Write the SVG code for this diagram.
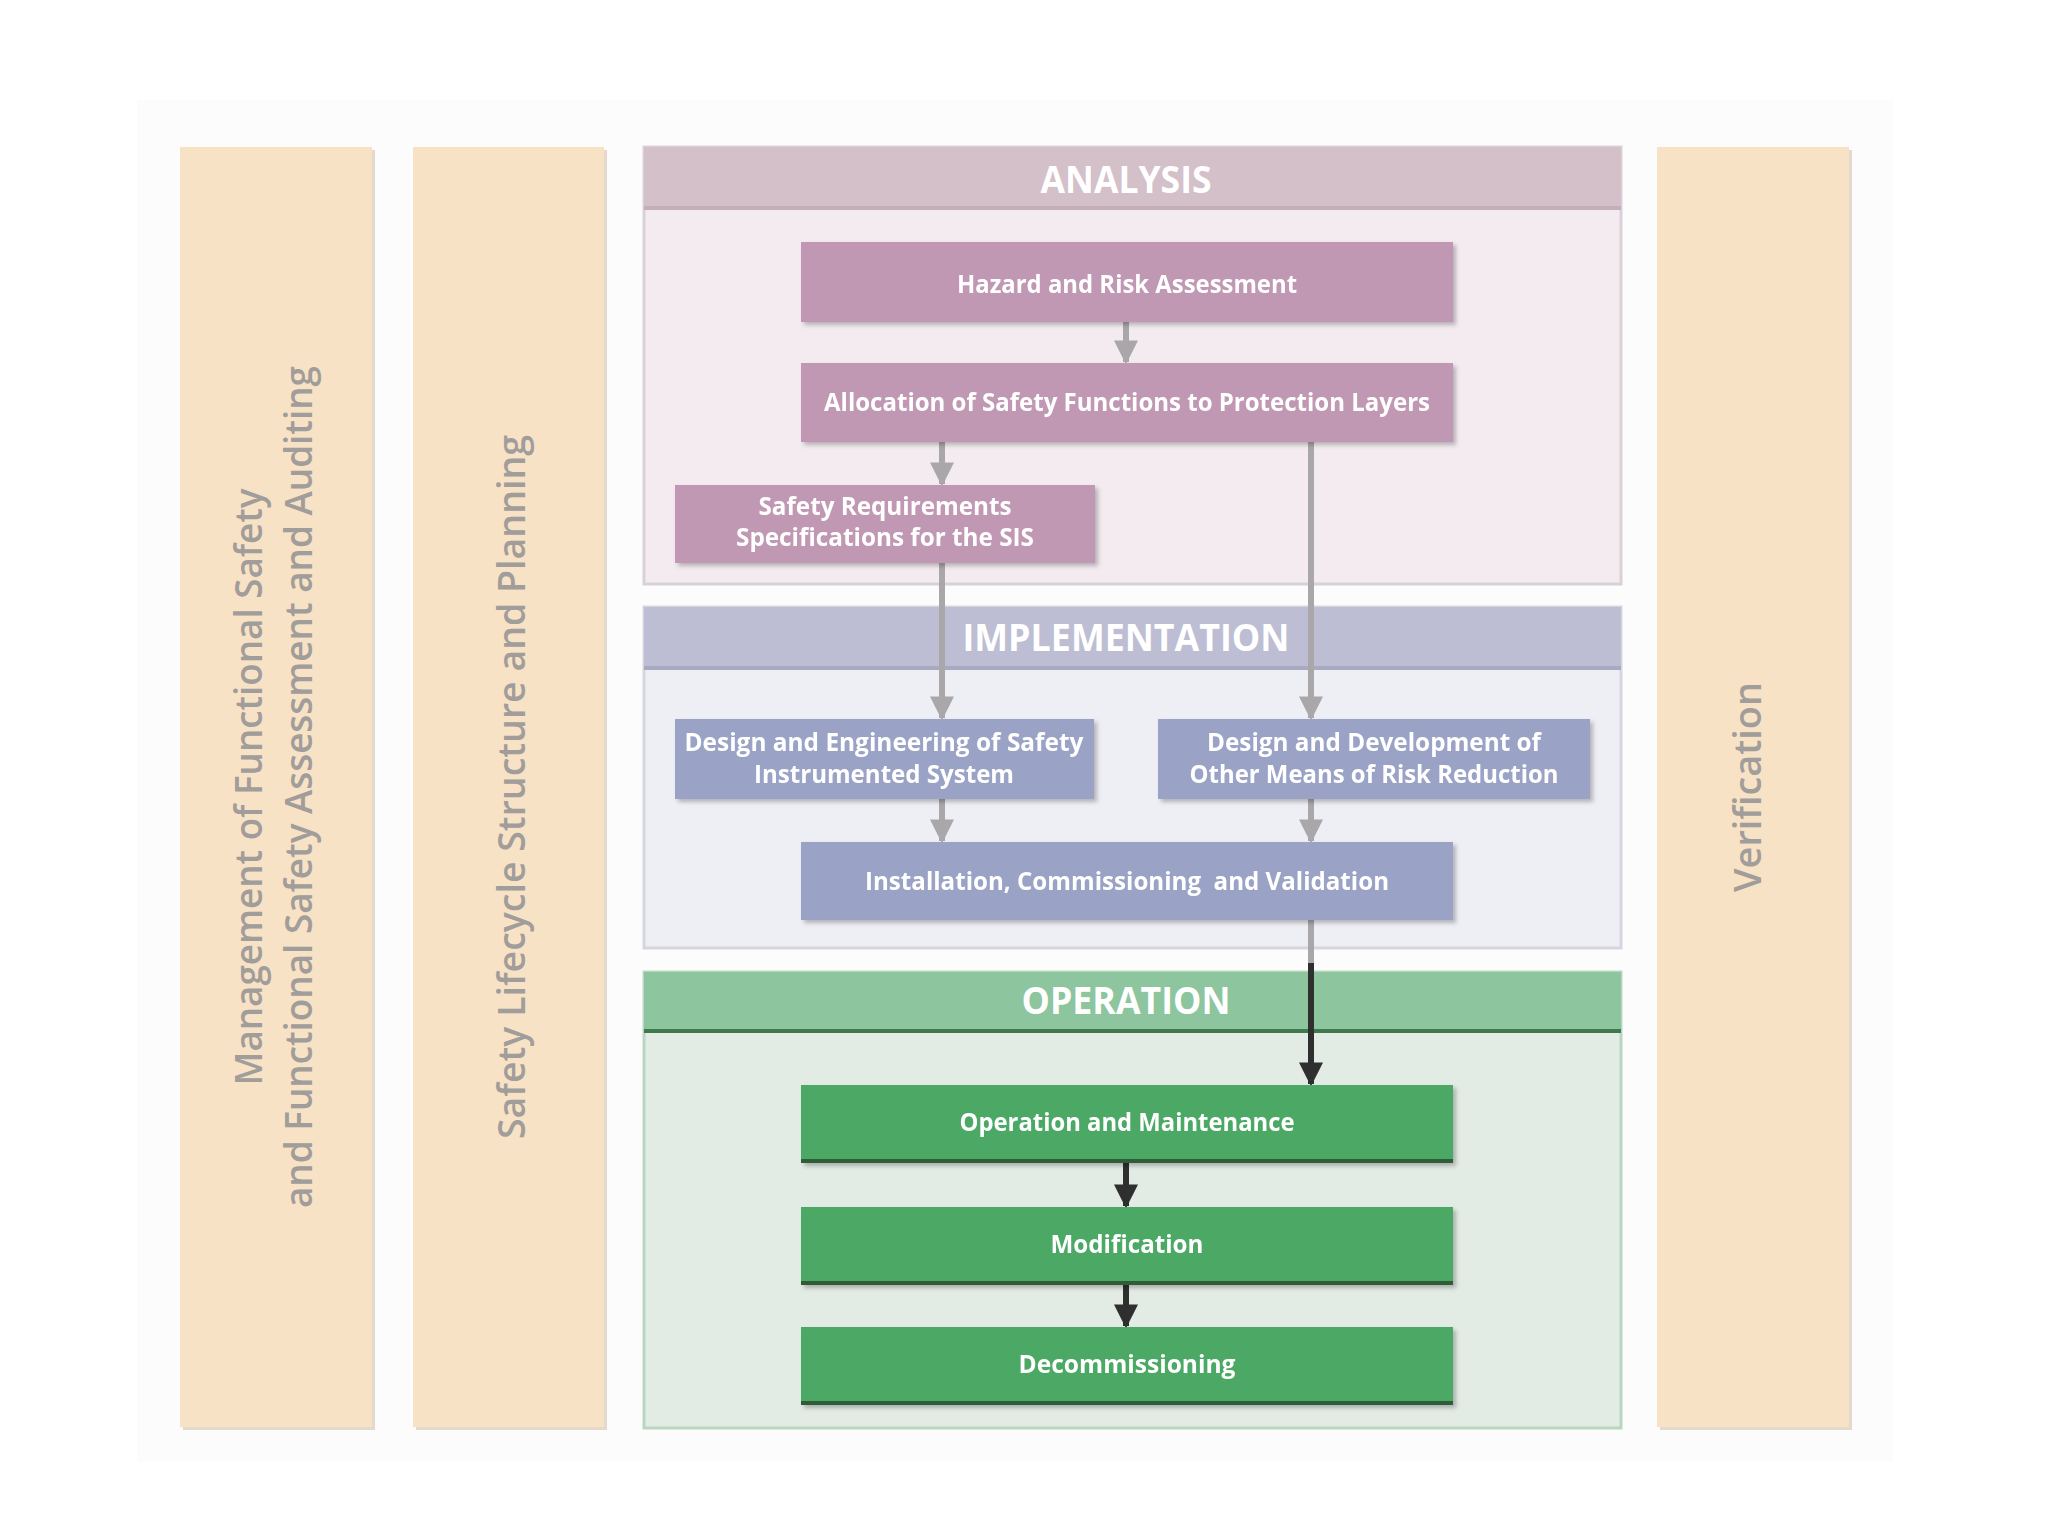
<svg xmlns="http://www.w3.org/2000/svg" width="2048" height="1536" viewBox="0 0 2048 1536">
  <defs>
    <marker id="ah-gray" markerWidth="4" markerHeight="4" refX="3.6" refY="2" orient="auto" markerUnits="strokeWidth">
      <path d="M0,0 L4,2 L0,4 Z" fill="#a9a7aa"/>
    </marker>
    <marker id="ah-dark" markerWidth="4" markerHeight="4" refX="3.6" refY="2" orient="auto" markerUnits="strokeWidth">
      <path d="M0,0 L4,2 L0,4 Z" fill="#2f2f2f"/>
    </marker>
    <filter id="sh" x="-5%" y="-5%" width="110%" height="120%">
      <feDropShadow dx="3" dy="3" stdDeviation="2" flood-color="#000" flood-opacity="0.25"/>
    </filter>
  </defs>
  <style>
    .col { fill: #f8e2c5; }
    .coltxt { font-family: "Open Sans", "DejaVu Sans", sans-serif; font-weight: 600; font-size: 38px; fill: #a19d9a; text-anchor: middle; }
    .hdrtxt { font-family: "Open Sans", "DejaVu Sans", sans-serif; font-weight: 700; font-size: 38px; fill: #ffffff; text-anchor: middle; }
    .ntxt { font-family: "Open Sans", "DejaVu Sans", sans-serif; font-weight: 700; font-size: 25px; fill: #ffffff; text-anchor: middle; white-space: pre; }
    .a-node { fill: #c098b3; }
    .i-node { fill: #9aa3c5; }
    .o-node { fill: #4ca865; }
    .o-edge { fill: #2e5d38; }
    .gline { stroke: #a9a7aa; stroke-width: 6; fill: none; }
    .dline { stroke: #2f2f2f; stroke-width: 6; fill: none; }
  </style>

  <rect x="0" y="0" width="2048" height="1536" fill="#ffffff"/>
  <rect x="137" y="100" width="1756" height="1362" fill="#fcfcfc"/>

  <!-- side columns -->
  <g id="col-management">
    <rect x="183" y="150" width="192" height="1280" fill="#e3d9cc"/>
    <rect class="col" x="180" y="147" width="192" height="1280"/>
    <text class="coltxt" transform="translate(262,787) rotate(-90)" textLength="597" lengthAdjust="spacingAndGlyphs">Management of Functional Safety</text>
    <text class="coltxt" transform="translate(312,787) rotate(-90)" textLength="842" lengthAdjust="spacingAndGlyphs">and Functional Safety Assessment and Auditing</text>
  </g>
  <g id="col-planning">
    <rect x="416" y="150" width="191" height="1280" fill="#e3d9cc"/>
    <rect class="col" x="413" y="147" width="191" height="1280"/>
    <text class="coltxt" transform="translate(525,787) rotate(-90)" textLength="704" lengthAdjust="spacingAndGlyphs">Safety Lifecycle Structure and Planning</text>
  </g>
  <g id="col-verification">
    <rect x="1660" y="150" width="192" height="1280" fill="#e3d9cc"/>
    <rect class="col" x="1657" y="147" width="192" height="1280"/>
    <text class="coltxt" transform="translate(1761,787) rotate(-90)" textLength="210" lengthAdjust="spacingAndGlyphs">Verification</text>
  </g>

  <!-- phase panels -->
  <g id="panel-analysis">
    <rect x="644" y="147" width="977" height="437" fill="#f4ebf0" stroke="#d8d2d6" stroke-width="3"/>
    <rect x="644" y="147" width="977" height="62" fill="#d4c0c9"/>
    <rect x="644" y="206" width="977" height="4" fill="#c4aebb"/>
    <text class="hdrtxt" x="1126" y="193" textLength="171" lengthAdjust="spacingAndGlyphs">ANALYSIS</text>
  </g>
  <g id="panel-implementation">
    <rect x="644" y="607" width="977" height="341" fill="#eeeef5" stroke="#d6d6df" stroke-width="3"/>
    <rect x="644" y="607" width="977" height="62" fill="#bdbdd4"/>
    <rect x="644" y="666" width="977" height="4" fill="#a9a9c2"/>
    <text class="hdrtxt" x="1126" y="651" textLength="327" lengthAdjust="spacingAndGlyphs">IMPLEMENTATION</text>
  </g>
  <g id="panel-operation">
    <rect x="644" y="972" width="977" height="456" fill="#e3ebe5" stroke="#b9d6c0" stroke-width="3"/>
    <rect x="644" y="972" width="977" height="60" fill="#8dc59e"/>
    <rect x="644" y="1029" width="977" height="4" fill="#3f7a4e"/>
    <text class="hdrtxt" x="1126" y="1014" textLength="209" lengthAdjust="spacingAndGlyphs">OPERATION</text>
  </g>

  <!-- connectors -->
  <g id="connectors">
    <line class="gline" x1="1126" y1="322" x2="1126" y2="362" marker-end="url(#ah-gray)"/>
    <line class="gline" x1="942" y1="442" x2="942" y2="484" marker-end="url(#ah-gray)"/>
    <line class="gline" x1="942" y1="563" x2="942" y2="718" marker-end="url(#ah-gray)"/>
    <line class="gline" x1="1311" y1="442" x2="1311" y2="718" marker-end="url(#ah-gray)"/>
    <line class="gline" x1="942" y1="799" x2="942" y2="841" marker-end="url(#ah-gray)"/>
    <line class="gline" x1="1311" y1="799" x2="1311" y2="841" marker-end="url(#ah-gray)"/>
    <line class="gline" x1="1311" y1="920" x2="1311" y2="966"/>
    <line class="dline" x1="1311" y1="963" x2="1311" y2="1084" marker-end="url(#ah-dark)"/>
    <line class="dline" x1="1126" y1="1163" x2="1126" y2="1206" marker-end="url(#ah-dark)"/>
    <line class="dline" x1="1126" y1="1285" x2="1126" y2="1326" marker-end="url(#ah-dark)"/>
  </g>

  <!-- analysis nodes -->
  <g id="node-hazard" filter="url(#sh)">
    <rect class="a-node" x="801" y="242" width="652" height="80"/>
    <text class="ntxt" x="1127" y="293" textLength="340" lengthAdjust="spacingAndGlyphs">Hazard and Risk Assessment</text>
  </g>
  <g id="node-allocation" filter="url(#sh)">
    <rect class="a-node" x="801" y="363" width="652" height="79"/>
    <text class="ntxt" x="1127" y="411" textLength="606" lengthAdjust="spacingAndGlyphs">Allocation of Safety Functions to Protection Layers</text>
  </g>
  <g id="node-srs" filter="url(#sh)">
    <rect class="a-node" x="675" y="485" width="420" height="78"/>
    <text class="ntxt" x="885" y="515" textLength="253" lengthAdjust="spacingAndGlyphs">Safety Requirements</text>
    <text class="ntxt" x="885" y="546" textLength="298" lengthAdjust="spacingAndGlyphs">Specifications for the SIS</text>
  </g>

  <!-- implementation nodes -->
  <g id="node-design-sis" filter="url(#sh)">
    <rect class="i-node" x="675" y="719" width="419" height="80"/>
    <text class="ntxt" x="884" y="751" textLength="399" lengthAdjust="spacingAndGlyphs">Design and Engineering of Safety</text>
    <text class="ntxt" x="884" y="783" textLength="260" lengthAdjust="spacingAndGlyphs">Instrumented System</text>
  </g>
  <g id="node-design-other" filter="url(#sh)">
    <rect class="i-node" x="1158" y="719" width="432" height="80"/>
    <text class="ntxt" x="1374" y="751" textLength="334" lengthAdjust="spacingAndGlyphs">Design and Development of</text>
    <text class="ntxt" x="1374" y="783" textLength="369" lengthAdjust="spacingAndGlyphs">Other Means of Risk Reduction</text>
  </g>
  <g id="node-installation" filter="url(#sh)">
    <rect class="i-node" x="801" y="842" width="652" height="78"/>
    <text class="ntxt" x="1127" y="890" textLength="524" lengthAdjust="spacingAndGlyphs" xml:space="preserve">Installation, Commissioning  and Validation</text>
  </g>

  <!-- operation nodes -->
  <g id="node-om" filter="url(#sh)">
    <rect class="o-node" x="801" y="1085" width="652" height="78"/>
    <rect class="o-edge" x="801" y="1159" width="652" height="4"/>
    <text class="ntxt" x="1127" y="1131" textLength="335" lengthAdjust="spacingAndGlyphs" fill="#f2fbe8">Operation and Maintenance</text>
  </g>
  <g id="node-modification" filter="url(#sh)">
    <rect class="o-node" x="801" y="1207" width="652" height="78"/>
    <rect class="o-edge" x="801" y="1281" width="652" height="4"/>
    <text class="ntxt" x="1127" y="1253" textLength="153" lengthAdjust="spacingAndGlyphs">Modification</text>
  </g>
  <g id="node-decommissioning" filter="url(#sh)">
    <rect class="o-node" x="801" y="1327" width="652" height="78"/>
    <rect class="o-edge" x="801" y="1401" width="652" height="4"/>
    <text class="ntxt" x="1127" y="1373" textLength="217" lengthAdjust="spacingAndGlyphs">Decommissioning</text>
  </g>
</svg>
